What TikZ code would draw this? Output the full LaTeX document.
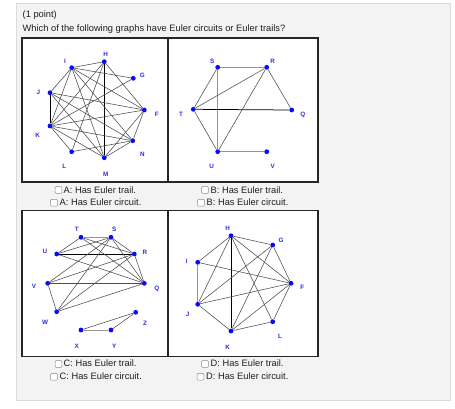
\documentclass[tikz,border=0pt]{standalone}
\usepackage{fontspec}
\setmainfont{Liberation Sans}
\definecolor{nodeblue}{RGB}{10,10,245}
\definecolor{lblblue}{RGB}{45,45,225}
\definecolor{pagegray}{RGB}{243,243,243}
\begin{document}
\begin{tikzpicture}[x=1pt,y=-1pt]
\tikzset{
 vtx/.style={circle, fill=nodeblue, inner sep=0pt, minimum size=4.8pt},
 lbl/.style={text=lblblue, font=\fontsize{6.3}{7}\selectfont\bfseries, inner sep=0pt},
 edg/.style={draw=black!70, line width=0.55pt},
 edgl/.style={draw=black!42, line width=0.65pt},
 edgd/.style={draw=black, line width=0.75pt},
 cell/.style={draw=black!85, line width=1.1pt, fill=white},
 opt/.style={anchor=west, font=\fontsize{9.3}{11}\selectfont, inner sep=0pt, text=black!88},
 cbox/.style={draw=black!45, fill=white, rounded corners=1pt, minimum size=6.8pt, inner sep=0pt, line width=0.5pt}
}
\useasboundingbox (0,0) rectangle (455,408);
\fill[white] (0,0) rectangle (455,408);
\draw[draw=black!14, fill=pagegray, line width=0.6pt] (16,3.5) rectangle (450,400);

\node[opt] (pt) at (22.5,15) {(1 point)};
\node[opt] (q) at (22.5,29) {Which of the following graphs have Euler circuits or Euler trails?};

% cells
\draw[cell] (22,38) rectangle (168,182);
\draw[cell] (168,38) rectangle (318,182);
\draw[cell] (22,210.5) rectangle (168,356.5);
\draw[cell] (168,210.5) rectangle (318,356.5);

% ---------- Graph A ----------
\node[vtx] (aH) at (104.3,61.7) {};
\node[vtx] (aI) at (71.7,67.7) {};
\node[vtx] (aG) at (133.3,78.3) {};
\node[vtx] (aJ) at (50,92.7) {};
\node[vtx] (aF) at (144.3,110) {};
\node[vtx] (aK) at (50,126) {};
\node[vtx] (aN) at (132.7,140.7) {};
\node[vtx] (aL) at (71.7,151.7) {};
\node[vtx] (aM) at (104.3,157.7) {};
\node[lbl] (aHl) at (105.7,54) {H};
\node[lbl] (aIl) at (65,61.7) {I};
\node[lbl] (aGl) at (142.3,75) {G};
\node[lbl] (aJl) at (38.3,92.7) {J};
\node[lbl] (aFl) at (156.7,114) {F};
\node[lbl] (aKl) at (37.7,135) {K};
\node[lbl] (aNl) at (142.3,154) {N};
\node[lbl] (aLl) at (64.3,166.7) {L};
\node[lbl] (aMl) at (105.7,174.3) {M};
\draw[edgd] (aH) -- (aM);
\draw[edgd] (aJ) -- (aK);
\foreach \a/\b in {aI/aH, aI/aG, aI/aJ, aI/aK, aI/aF, aI/aN, aI/aM, aH/aK, aH/aL, aH/aF,
  aG/aK, aJ/aF, aJ/aN, aJ/aM, aK/aF, aK/aN, aK/aL, aK/aM, aL/aN, aM/aN, aN/aF, aM/aF}
  \draw[edg] (\a) -- (\b);

% ---------- Graph B ----------
\node[vtx] (bS) at (217.7,67.3) {};
\node[vtx] (bR) at (266.7,67.3) {};
\node[vtx] (bT) at (193.3,109.3) {};
\node[vtx] (bQ) at (291.7,110) {};
\node[vtx] (bU) at (217.7,151.7) {};
\node[vtx] (bV) at (266.7,151.7) {};
\node[lbl] (bSl) at (212.3,61.2) {S};
\node[lbl] (bRl) at (272.7,61.2) {R};
\node[lbl] (bTl) at (181,114) {T};
\node[lbl] (bQl) at (302.7,115) {Q};
\node[lbl] (bUl) at (211.7,166.7) {U};
\node[lbl] (bVl) at (272.7,166.7) {V};
\draw[edgl] (bS) -- (bR);
\draw[edgl] (bS) -- (bU);
\draw[edgl] (bU) -- (bV);
\draw[edgd] (bT) -- (bQ);
\foreach \a/\b in {bS/bT, bT/bR, bT/bU, bR/bQ, bR/bU}
  \draw[edg] (\a) -- (\b);

% ---------- Graph C ----------
\node[vtx] (cT) at (81,237.3) {};
\node[vtx] (cS) at (111,237.3) {};
\node[vtx] (cU) at (56.7,254) {};
\node[vtx] (cR) at (134.3,254) {};
\node[vtx] (cV) at (47.7,283.3) {};
\node[vtx] (cQ) at (144.3,283.3) {};
\node[vtx] (cW) at (56.7,311.7) {};
\node[vtx] (cZ) at (135.7,312.3) {};
\node[vtx] (cX) at (81,330) {};
\node[vtx] (cY) at (111,330) {};
\node[lbl] (cTl) at (76.7,229) {T};
\node[lbl] (cSl) at (114.3,229) {S};
\node[lbl] (cUl) at (45,251.7) {U};
\node[lbl] (cRl) at (145,252.3) {R};
\node[lbl] (cVl) at (34,286) {V};
\node[lbl] (cQl) at (156.7,289) {Q};
\node[lbl] (cWl) at (45,322.3) {W};
\node[lbl] (cZl) at (145,323.3) {Z};
\node[lbl] (cXl) at (76.7,346.7) {X};
\node[lbl] (cYl) at (114.3,346.7) {Y};
\draw[edgl] (cT) -- (cS);
\draw[edgl] (cX) -- (cY);
\draw[edgd] (cU) -- (cR);
\foreach \a/\b in {cT/cU, cT/cR, cT/cQ, cS/cU, cS/cR, cS/cQ, cS/cV, cS/cW, cU/cQ,
  cR/cV, cR/cW, cR/cQ, cV/cQ, cV/cW, cW/cQ, cX/cZ, cY/cZ}
  \draw[edg] (\a) -- (\b);

% ---------- Graph D ----------
\node[vtx] (dH) at (231,235.7) {};
\node[vtx] (dG) at (272.7,245) {};
\node[vtx] (dI) at (197.7,262.3) {};
\node[vtx] (dF) at (291,283.3) {};
\node[vtx] (dJ) at (197.7,304.3) {};
\node[vtx] (dL) at (272.7,321.7) {};
\node[vtx] (dK) at (231,331) {};
\node[lbl] (dHl) at (227.7,228.3) {H};
\node[lbl] (dGl) at (281,240) {G};
\node[lbl] (dIl) at (186.7,261.7) {I};
\node[lbl] (dFl) at (302.3,287.7) {F};
\node[lbl] (dJl) at (187.7,314.3) {J};
\node[lbl] (dLl) at (280,336.7) {L};
\node[lbl] (dKl) at (227.7,347.7) {K};
\draw[edgd] (dH) -- (dK);
\draw[edgl] (dI) -- (dJ);
\foreach \a/\b in {dH/dG, dH/dI, dH/dJ, dH/dF, dH/dL, dG/dF, dG/dJ, dG/dK, dI/dF,
  dJ/dF, dJ/dK, dK/dL, dK/dF, dL/dF}
  \draw[edg] (\a) -- (\b);

% ---------- options ----------
\node[cbox] (ca1) at (58.5,190) {};
\node[opt] (ta1) at (63.5,190) {A: Has Euler trail.};
\node[cbox] (ca2) at (54,202.8) {};
\node[opt] (ta2) at (59.5,202.5) {A: Has Euler circuit.};
\node[cbox] (cb1) at (205,190) {};
\node[opt] (tb1) at (210.5,190) {B: Has Euler trail.};
\node[cbox] (cb2) at (201,202.8) {};
\node[opt] (tb2) at (206.5,202.5) {B: Has Euler circuit.};
\node[cbox] (cc1) at (58.5,364) {};
\node[opt] (tc1) at (63.5,363.5) {C: Has Euler trail.};
\node[cbox] (cc2) at (54,376.8) {};
\node[opt] (tc2) at (59.5,376) {C: Has Euler circuit.};
\node[cbox] (cd1) at (205,364) {};
\node[opt] (td1) at (210.5,363.5) {D: Has Euler trail.};
\node[cbox] (cd2) at (200.5,376.8) {};
\node[opt] (td2) at (206,376) {D: Has Euler circuit.};
\end{tikzpicture}
\end{document}
